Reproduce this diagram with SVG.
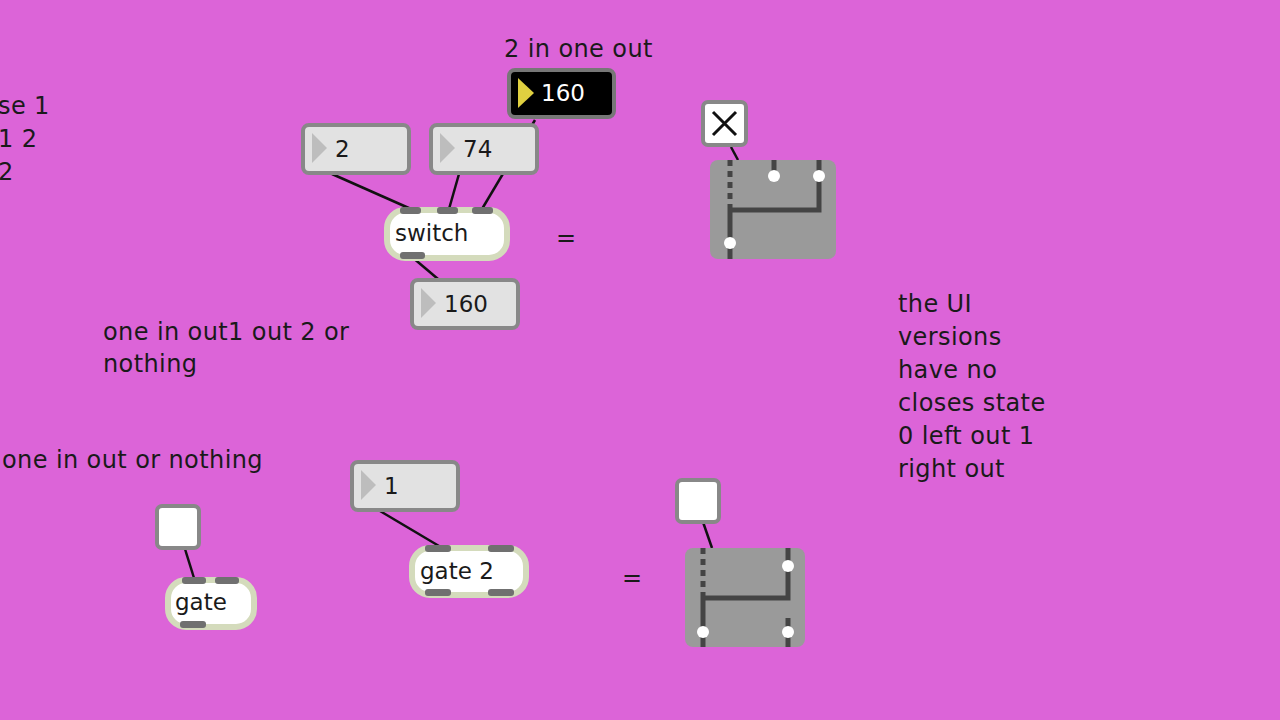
<svg xmlns="http://www.w3.org/2000/svg" width="1280" height="720" viewBox="0 0 1280 720">
<style>
text{font-family:"DejaVu Sans",Verdana,sans-serif;font-size:23px;fill:#1a1a1a}
#labels text{font-size:24px;letter-spacing:0.4px}
.num{fill:#e2e2e2;stroke:#888;stroke-width:4}
.tri{fill:#bdbdbd}
.obj{fill:#fff;stroke:#d4dbbc;stroke-width:6}
.port{fill:#707070}
.tog{fill:#fff;stroke:#888;stroke-width:4}
.ui{fill:#9a9a9a}
.path{stroke:#444;stroke-width:5;fill:none}
.dot{stroke:#444;stroke-width:5;stroke-dasharray:6 5;fill:none}
.pin{fill:#fff}
.c{stroke:#111;stroke-width:2.5}
</style>
<rect width="1280" height="720" fill="#dc64d8"/>
<g id="labels">
<text x="-2" y="114">se 1</text>
<text x="-2" y="147">1 2</text>
<text x="-2" y="180">2</text>
<text x="504" y="57">2 in one out</text>
<text x="556" y="246">=</text>
<text x="103" y="340">one in out1 out 2 or</text>
<text x="103" y="372">nothing</text>
<text x="2" y="468">one in out or nothing</text>
<text x="622" y="586">=</text>
<text x="898" y="312">the UI</text>
<text x="898" y="345">versions</text>
<text x="898" y="378">have no</text>
<text x="898" y="411">closes state</text>
<text x="898" y="444">0 left out 1</text>
<text x="898" y="477">right out</text>
</g>
<g id="connectors">
<line class="c" x1="332" y1="174" x2="411" y2="209"/>
<line class="c" x1="459" y1="174" x2="449" y2="209"/>
<line class="c" x1="535" y1="120" x2="482" y2="209"/>
<line class="c" x1="412" y1="257" x2="438" y2="279"/>
<line class="c" x1="731" y1="147" x2="738" y2="160"/>
<line class="c" x1="703" y1="522" x2="712" y2="548"/>
<line class="c" x1="185" y1="549" x2="194" y2="578"/>
<line class="c" x1="380" y1="511" x2="439" y2="546"/>
</g>
<g id="num2"><rect class="num" x="303" y="125" width="106" height="48" rx="6"/><polygon class="tri" points="312,133 312,163 327,148"/><text x="335" y="157">2</text></g>
<g id="num74"><rect class="num" x="431" y="125" width="106" height="48" rx="6"/><polygon class="tri" points="440,133 440,163 455,148"/><text x="463" y="157">74</text></g>
<g id="num160top"><rect x="509" y="70" width="105" height="47" rx="6" fill="#000" stroke="#777" stroke-width="4"/><polygon points="518,78 518,108 534,93" fill="#e0d040"/><text x="541" y="101" style="fill:#fff">160</text></g>
<g id="switch"><rect class="obj" x="387" y="210" width="120" height="48" rx="18"/><rect class="port" x="400" y="207" width="21" height="7" rx="3"/><rect class="port" x="437" y="207" width="21" height="7" rx="3"/><rect class="port" x="472" y="207" width="21" height="7" rx="3"/><rect class="port" x="400" y="252" width="25" height="7" rx="3"/><text x="395" y="241">switch</text></g>
<g id="num160"><rect class="num" x="412" y="280" width="106" height="48" rx="6"/><polygon class="tri" points="421,288 421,318 436,303"/><text x="444" y="312">160</text></g>
<g id="toggleX"><rect class="tog" x="703" y="102" width="43" height="43" rx="5"/><path d="M713 112 L736 135 M736 112 L713 135" stroke="#111" stroke-width="3"/></g>
<g id="uiswitch"><rect class="ui" x="710" y="160" width="126" height="99" rx="8"/><line class="dot" x1="730" y1="160" x2="730" y2="207"/><path class="path" d="M730 207 V259 M730 210 H819 V160 M774 160 V176"/><circle class="pin" cx="774" cy="176" r="6"/><circle class="pin" cx="819" cy="176" r="6"/><circle class="pin" cx="730" cy="243" r="6"/></g>
<g id="num1"><rect class="num" x="352" y="462" width="106" height="48" rx="6"/><polygon class="tri" points="361,470 361,500 376,485"/><text x="384" y="494">1</text></g>
<g id="toggle1"><rect class="tog" x="157" y="506" width="42" height="42" rx="5"/></g>
<g id="gate"><rect class="obj" x="168" y="580" width="86" height="47" rx="18"/><rect class="port" x="182" y="577" width="24" height="7" rx="3"/><rect class="port" x="215" y="577" width="24" height="7" rx="3"/><rect class="port" x="180" y="621" width="26" height="7" rx="3"/><text x="175" y="610">gate</text></g>
<g id="gate2"><rect class="obj" x="412" y="548" width="114" height="47" rx="18"/><rect class="port" x="425" y="545" width="26" height="7" rx="3"/><rect class="port" x="488" y="545" width="26" height="7" rx="3"/><rect class="port" x="425" y="589" width="26" height="7" rx="3"/><rect class="port" x="488" y="589" width="26" height="7" rx="3"/><text x="420" y="579">gate 2</text></g>
<g id="toggle2"><rect class="tog" x="677" y="480" width="42" height="42" rx="5"/></g>
<g id="uigate"><rect class="ui" x="685" y="548" width="120" height="99" rx="8"/><line class="dot" x1="703" y1="548" x2="703" y2="596"/><path class="path" d="M703 596 V647 M703 598 H788 V548 M788 618 V647"/><circle class="pin" cx="788" cy="566" r="6"/><circle class="pin" cx="703" cy="632" r="6"/><circle class="pin" cx="788" cy="632" r="6"/></g>
</svg>
